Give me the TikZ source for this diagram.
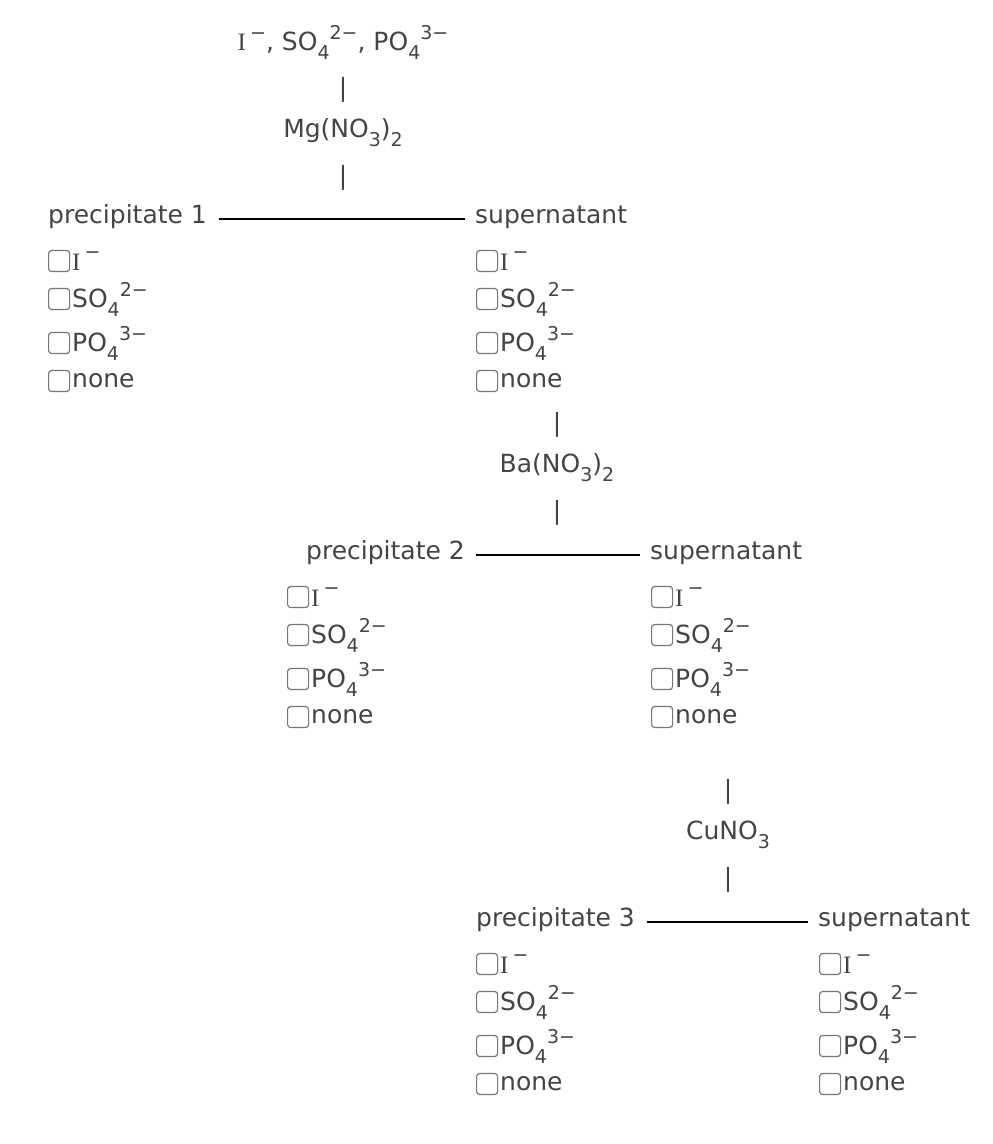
\documentclass[tikz,border=0pt]{standalone}
\usepackage{fontspec}
\setmainfont{DejaVu Sans}
\newfontfamily\serifI{Liberation Serif}
\usetikzlibrary{positioning}
\definecolor{txtgray}{HTML}{444444}
\definecolor{boxgray}{HTML}{777777}
\newcommand{\lowr}[1]{\raisebox{-0.35em}{\fontsize{19}{20}\selectfont #1}}
\newcommand{\highr}[1]{\raisebox{0.45em}{\fontsize{19}{20}\selectfont #1}}
\newcommand{\iodide}{{\serifI I}\,\highr{−}}
\newcommand{\sulfate}{SO\lowr{4}\highr{2−}}
\newcommand{\phosphate}{PO\lowr{4}\highr{3−}}
\tikzset{
  lbl/.style={text=txtgray,font=\fontsize{25}{28}\selectfont,inner sep=0pt},
  chk/.style={draw=boxgray,line width=1.2pt,rounded corners=3pt,minimum size=21pt,inner sep=0pt},
  link/.style={line width=1.2pt}
}
% checkbox list: prefix, x, y of first row
\newcommand{\ionlist}[3]{
  \foreach \txt/\dy/\k in {\iodide/0/a,\sulfate/38/b,\phosphate/82/c,none/120/d}{
    \node[chk,anchor=west] (#1box\k) at (#2,#3+\dy) {};
    \node[lbl,anchor=west] (#1ion\k) at (#2+24,#3+\dy) {\txt};
  }
}
\begin{document}
\begin{tikzpicture}[x=1pt,y=-1pt]
\useasboundingbox (0,0) rectangle (993,1144);
% start
\node[lbl] (start) at (343,42) {\iodide, \sulfate, \phosphate};
\node[lbl] (barA) at (343,90) {|};
\node[lbl] (mg) at (343,133) {Mg(NO\lowr{3})\lowr{2}};
\node[lbl] (barB) at (343,178) {|};
\node[lbl,anchor=west] (pptA) at (48,217) {precipitate 1};
\node[lbl,anchor=west] (supA) at (475,217) {supernatant};
\draw[link] ([xshift=12,yshift=-2]pptA.east) -- ([xshift=-10,yshift=-2]supA.west);
\ionlist{pA}{48}{261}
\ionlist{sA}{476}{261}
% second step
\node[lbl] (barC) at (557,425) {|};
\node[lbl] (ba) at (557,468) {Ba(NO\lowr{3})\lowr{2}};
\node[lbl] (barD) at (557,513) {|};
\node[lbl,anchor=east] (pptB) at (465,553) {precipitate 2};
\node[lbl,anchor=west] (supB) at (650,553) {supernatant};
\draw[link] ([xshift=11,yshift=-2]pptB.east) -- ([xshift=-10,yshift=-2]supB.west);
\ionlist{pB}{287}{597}
\ionlist{sB}{651}{597}
% third step
\node[lbl] (barE) at (728,792) {|};
\node[lbl] (cu) at (728,835) {CuNO\lowr{3}};
\node[lbl] (barF) at (728,880) {|};
\node[lbl,anchor=west] (pptC) at (476,920) {precipitate 3};
\node[lbl,anchor=west] (supC) at (818,920) {supernatant};
\draw[link] ([xshift=12,yshift=-2]pptC.east) -- ([xshift=-10,yshift=-2]supC.west);
\ionlist{pC}{476}{964}
\ionlist{sC}{819}{964}
\end{tikzpicture}
\end{document}
